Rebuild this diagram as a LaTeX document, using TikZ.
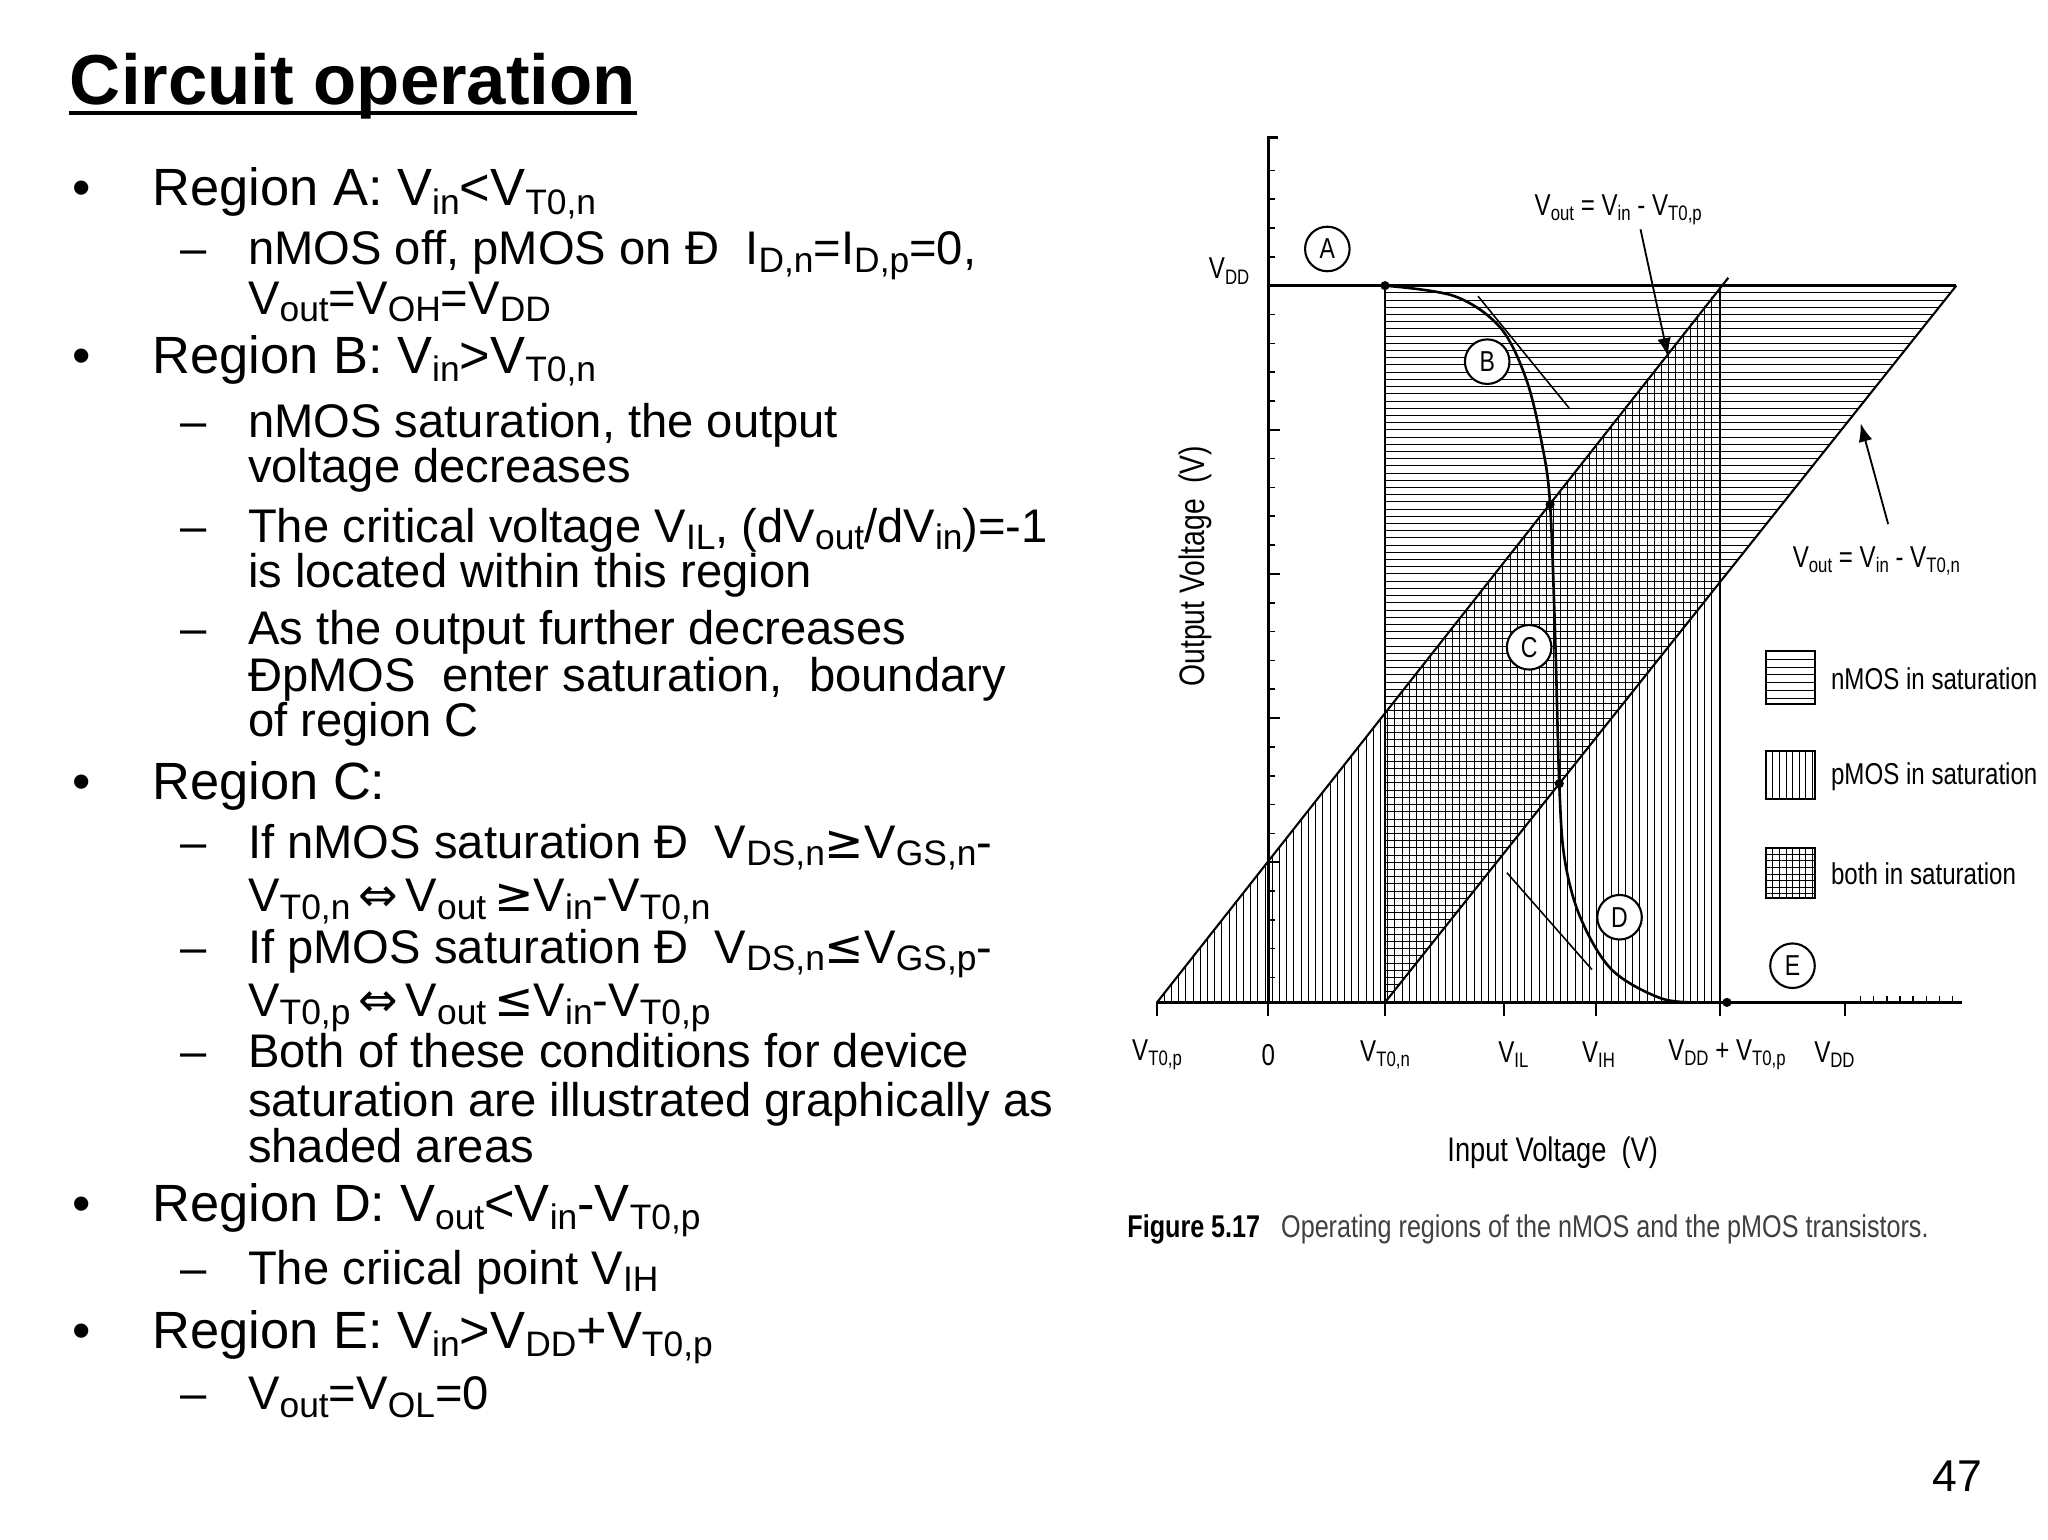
\documentclass[tikz,border=0pt]{standalone}
\usepackage{fontspec}
\usetikzlibrary{arrows.meta}
\setmainfont{Liberation Sans}
\newfontfamily\djv{DejaVu Sans}
\newfontfamily\narrow[FakeStretch=0.8]{Liberation Sans}
\newcommand\sbs[1]{\raisebox{-0.3ex}{\fontsize{13.5}{13.5}\selectfont #1}}
\newcommand\gsb[1]{\raisebox{-0.35ex}{\fontsize{8}{8}\selectfont #1}}
\begin{document}
\begin{tikzpicture}[x=0.5pt,y=-0.5pt,
  mtxt/.style={anchor=base west,inner sep=0,font=\fontsize{20}{20}\selectfont},
  stxt/.style={anchor=base west,inner sep=0,font=\fontsize{18}{18}\selectfont},
  gl/.style={inner sep=0,font=\narrow\fontsize{11.5}{12}\selectfont},
  circ/.style={circle,draw,line width=0.8pt,minimum size=17pt,inner sep=0,font=\narrow\fontsize{11}{11}\selectfont},
  hatch/.style={line width=0.35pt},
  ax/.style={line width=1pt}]
\useasboundingbox (0,0) rectangle (1563,1175);
\fill[white] (0,0) rectangle (1563,1175);
% title
\node[anchor=base west,inner sep=0,font=\bfseries\fontsize{27}{27}\selectfont] (title) at (53,80) {Circuit operation};
\draw[line width=1.6pt] (title.base west) ++(0,6) -- ([yshift=-3pt]title.base east);
% bullets
\foreach \yy/\nm in {157/b1,285/b2,610/b3,932/b4,1029/b5}{\node[mtxt] (\nm) at (55,\yy) {•};}
\foreach \yy/\nm in {202/d1,334/d2,414/d3,492/d4,655/d5,735/d6,815/d7,980/d8,1076/d9}{\node[stxt] (\nm) at (137,\yy) {–};}
\node[mtxt] (t1) at (116,157) {Region A: V\sbs{in}<V\sbs{T0,n}};
\node[stxt] (t2) at (189,202) {nMOS off, pMOS on Đ\ \ I\sbs{D,n}=I\sbs{D,p}=0,};
\node[stxt] (t3) at (189,240) {V\sbs{out}=V\sbs{OH}=V\sbs{DD}};
\node[mtxt] (t4) at (116,285) {Region B: V\sbs{in}>V\sbs{T0,n}};
\node[stxt] (t5) at (189,334) {nMOS saturation, the output};
\node[stxt] (t6) at (189,368) {voltage decreases};
\node[stxt] (t7) at (189,414) {The critical voltage V\sbs{IL}, (dV\sbs{out}/dV\sbs{in})=-1};
\node[stxt] (t8) at (189,448) {is located within this region};
\node[stxt] (t9) at (189,492) {As the output further decreases};
\node[stxt] (t10) at (189,528) {ĐpMOS\ \ enter saturation,\ \ boundary};
\node[stxt] (t11) at (189,562) {of region C};
\node[mtxt] (t12) at (116,610) {Region C:};
\node[stxt] (t13) at (189,655) {If nMOS saturation Đ\ \ V\sbs{DS,n}{\djv ≥}V\sbs{GS,n}-};
\node[stxt] (t14) at (189,696) {V\sbs{T0,n}\,{\djv ⇔}\,V\sbs{out}\,{\djv ≥}V\sbs{in}-V\sbs{T0,n}};
\node[stxt] (t15) at (189,735) {If pMOS saturation Đ\ \ V\sbs{DS,n}{\djv ≤}V\sbs{GS,p}-};
\node[stxt] (t16) at (189,776) {V\sbs{T0,p}\,{\djv ⇔}\,V\sbs{out}\,{\djv ≤}V\sbs{in}-V\sbs{T0,p}};
\node[stxt] (t17) at (189,815) {Both of these conditions for device};
\node[stxt] (t18) at (189,852) {saturation are illustrated graphically as};
\node[stxt] (t19) at (189,887) {shaded areas};
\node[mtxt] (t20) at (116,932) {Region D: V\sbs{out}<V\sbs{in}-V\sbs{T0,p}};
\node[stxt] (t21) at (189,980) {The criical point V\sbs{IH}};
\node[mtxt] (t22) at (116,1029) {Region E: V\sbs{in}>V\sbs{DD}+V\sbs{T0,p}};
\node[stxt] (t23) at (189,1076) {V\sbs{out}=V\sbs{OL}=0};
\node[anchor=base east,inner sep=0,font=\fontsize{17}{17}\selectfont] (pg) at (1513,1138) {47};
% hatching
\begin{scope}
\clip (1057,218) -- (1493,218) -- (1057,765) -- cycle;
\foreach \yy in {218,223.5,...,765}{\draw[hatch] (1050,\yy) -- (1500,\yy);}
\end{scope}
\begin{scope}
\clip (883,765) -- (1313,218) -- (1313,765) -- cycle;
\foreach \xx in {883,888.5,...,1316}{\draw[hatch] (\xx,210) -- (\xx,770);}
\end{scope}
\draw[line width=0.8pt] (1057,218) -- (1057,765);
\draw[line width=0.8pt] (883,765) -- (1319,212);
\draw[line width=0.8pt] (1057,765) -- (1493,218);
\draw[line width=0.8pt] (1313,218) -- (1313,765);
% axes
\draw[ax] (975,105) -- (968,105) -- (968,765);
\draw[ax] (968,218) -- (1493,218);
\draw[ax] (883,765) -- (1497,765);
\foreach \yy in {130,152,...,765}{\draw[line width=0.6pt] (968,\yy) -- (973,\yy);}
\foreach \yy in {218,328,438,548,658}{\draw[line width=0.8pt] (968,\yy) -- (977,\yy);}
\foreach \xx in {883,968,1057,1148,1218,1313,1408}{\draw[line width=0.8pt] (\xx,765) -- (\xx,775);}
\foreach \xx in {1420,1430,...,1495}{\draw[line width=0.5pt] (\xx,765) -- (\xx,760);}
% curve
\draw[line width=1pt] plot[smooth,tension=0.55] coordinates {(1057,218) (1110,226) (1145,250) (1165,290) (1177,340) (1183,385) (1187,490) (1190,598) (1194,655) (1206,700) (1230,740) (1268,762) (1300,765)};
\draw[line width=1.4pt] (1290,765) -- (1408,765);
\foreach \p in {{(1057,218)},{(1183,385)},{(1190,598)},{(1318,765)}}{\fill \p circle (3.5);}
\draw[line width=0.6pt] (1128,226) -- (1198,312);
\draw[line width=0.6pt] (1150,666) -- (1215,740);
% circles
\node[circ] (A) at (1013,190) {A};
\node[circ,fill=white] (B) at (1135,276) {B};
\node[circ,fill=white] (C) at (1167,494) {C};
\node[circ,fill=white] (D) at (1236,700) {D};
\node[circ] (E) at (1368,737) {E};
% labels
\node[gl] (lp) at (1235,160) {V\gsb{out} = V\gsb{in} - V\gsb{T0,p}};
\node[gl] (ln) at (1432,428) {V\gsb{out} = V\gsb{in} - V\gsb{T0,n}};
\coordinate (ap) at (1273,272);
\coordinate (an) at (1420,323);
\draw[-{Latex[length=7pt]},line width=0.7pt] (1252,175) -- (ap);
\draw[-{Latex[length=7pt]},line width=0.7pt] (1441,400) -- (an);
\node[gl] (vdd) at (938,207) {V\gsb{DD}};
\node[gl,rotate=90,font=\narrow\fontsize{13.5}{14}\selectfont] (ylab) at (912,432) {Output Voltage\ \ (V)};
\foreach \xx/\tt in {883/V\gsb{T0,p},968/0,1057/V\gsb{T0,n},1155/V\gsb{IL},1220/V\gsb{IH},1318/V\gsb{DD} + V\gsb{T0,p},1400/V\gsb{DD}}{\node[gl] at (\xx,805) {\tt};}
\node[gl,font=\narrow\fontsize{13}{13}\selectfont] (xlab) at (1185,880) {Input Voltage\ \ (V)};
\node[anchor=west,inner sep=0,font=\narrow\fontsize{12}{12}\selectfont] (cap) at (860,938) {\textbf{Figure 5.17}\ \ \ {\color{black!75}Operating regions of the nMOS and the pMOS transistors.}};
% legend
\begin{scope}
\clip (1348,497) rectangle (1385,537);
\foreach \yy in {497,503,...,537}{\draw[hatch] (1348,\yy) -- (1385,\yy);}
\end{scope}
\begin{scope}
\clip (1348,573) rectangle (1385,610);
\foreach \xx in {1348,1353,...,1385}{\draw[hatch] (\xx,573) -- (\xx,610);}
\end{scope}
\begin{scope}
\clip (1348,647) rectangle (1385,685);
\foreach \yy in {647,652,...,685}{\draw[hatch] (1348,\yy) -- (1385,\yy);}
\foreach \xx in {1348,1353,...,1385}{\draw[hatch] (\xx,647) -- (\xx,685);}
\end{scope}
\draw[line width=0.8pt] (1348,497) rectangle (1385,537) (1348,573) rectangle (1385,610) (1348,647) rectangle (1385,685);
\node[gl,anchor=west] (l1) at (1397,518) {nMOS in saturation};
\node[gl,anchor=west] (l2) at (1397,593) {pMOS in saturation};
\node[gl,anchor=west] (l3) at (1397,667) {both in saturation};
\end{tikzpicture}
\end{document}
